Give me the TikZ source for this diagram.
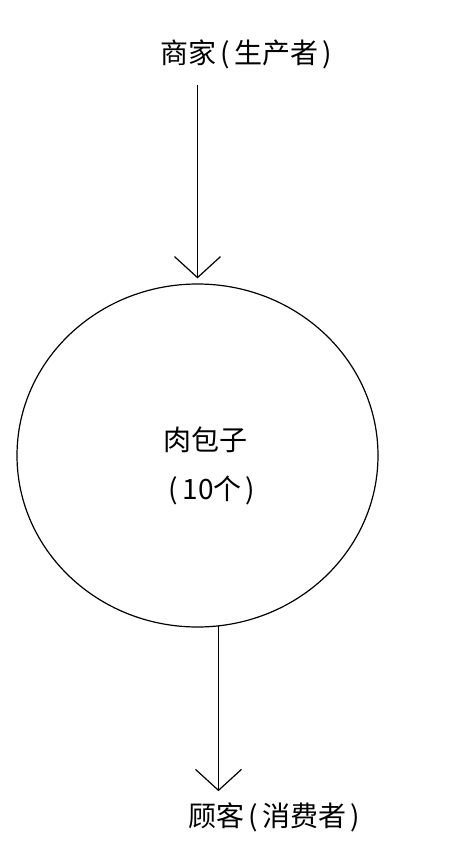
\documentclass[tikz,border=0pt]{standalone}
\usepackage{fontspec}
\newfontfamily\cjk{Noto Sans CJK SC}
\usetikzlibrary{shapes.geometric, arrows.meta}
\newcommand{\lp}{\hspace{0.15em}(\hspace{0.15em}}
\newcommand{\rp}{\hspace{0.15em})\hspace{0.15em}}
\tikzset{
    txt/.style={font=\cjk\fontsize{28}{30}\selectfont, inner sep=0pt},
    flow/.style={-{Straight Barb[length=21pt, width=46pt]}, line width=1.2pt},
    bunshape/.style={ellipse, draw, line width=1.2pt, minimum width=361pt, minimum height=343pt, inner sep=0pt}
}
\begin{document}
\begin{tikzpicture}[x=1pt, y=-1pt]
    \useasboundingbox (0,0) rectangle (474,859);
    \node[txt] (maker) at (246,54) {商家\lp 生产者\rp};
    \node[bunshape] (bun) at (197.5,455.5) {};
    \node[txt] (bunname) at (205,440) {肉包子};
    \node[txt] (bunnum) at (210,490) {\lp 10个\rp};
    \node[txt] (buyer) at (274,817) {顾客\lp 消费者\rp};
    % arrows in and out
    \coordinate (top) at (bun.north |- 0,85);
    \draw[flow, shorten >=5pt] (top) -- (bun.north);
    \coordinate (out) at (bun.-83);
    \draw[flow, shorten >=11pt] (out) -- (out |- buyer.north);
\end{tikzpicture}
\end{document}
